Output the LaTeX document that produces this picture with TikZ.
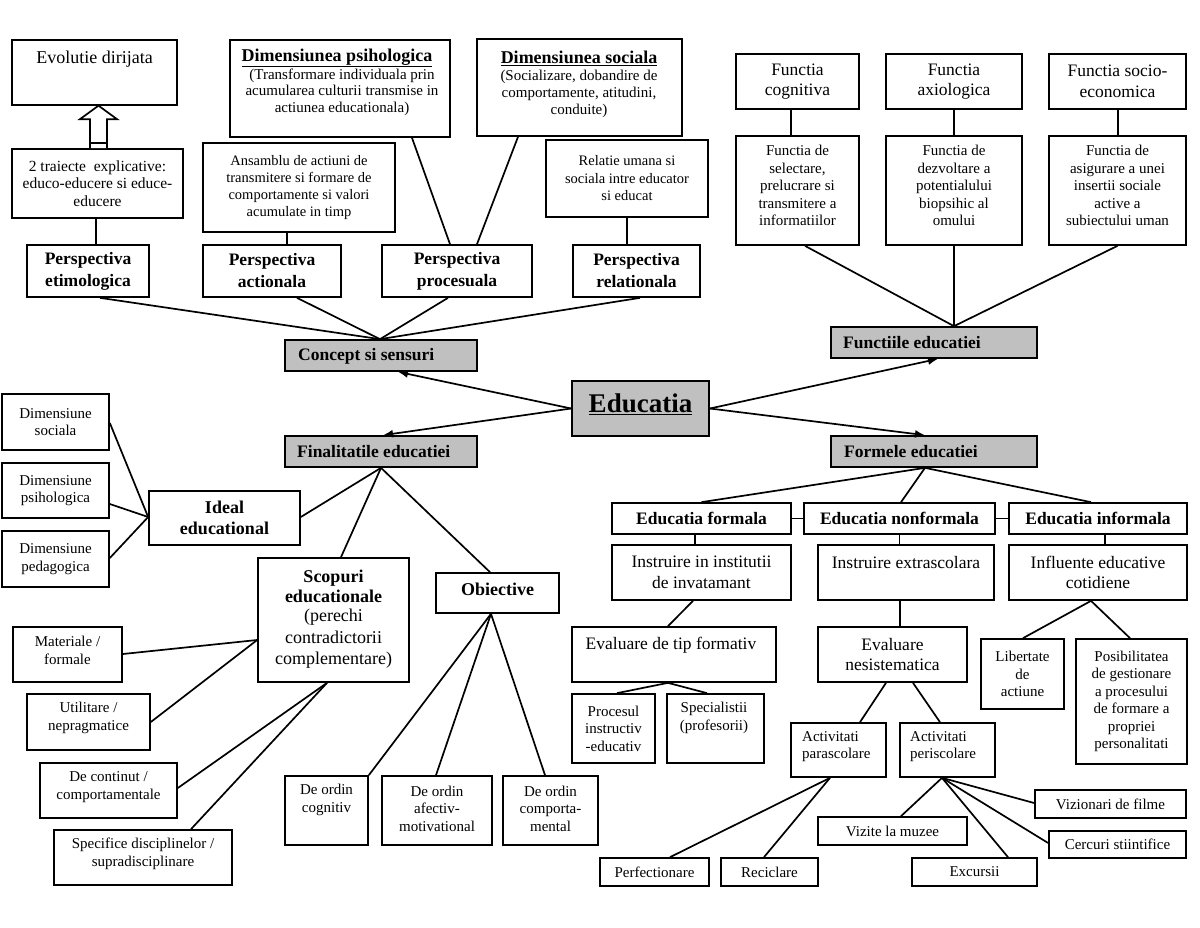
\documentclass[tikz,border=0pt]{standalone}
\usepackage{fontspec}
\setmainfont{Liberation Serif}
\usetikzlibrary{calc,arrows.meta}
\definecolor{boxgray}{RGB}{192,192,192}
\newcommand\mybox[5]{\node[#1,minimum width=#4pt,minimum height=#5pt] (#2) at (#3)}
\tikzset{
  box/.style={draw=black, line width=1.7pt, fill=white, inner sep=0pt, align=center},
  graybox/.style={box, fill=boxgray},
  ts/.style={font=\fontsize{15}{17.5}\selectfont, align=center, inner sep=0pt},
  tm/.style={font=\fontsize{17.5}{20.5}\selectfont, align=center, inner sep=0pt},
  tb/.style={font=\bfseries\fontsize{17.5}{22}\selectfont, align=center, inner sep=0pt},
  ln/.style={line width=1.7pt},
  ar/.style={line width=1.7pt, -{Latex[length=10pt,width=8pt]}},
}
\begin{document}
\begin{tikzpicture}[x=1pt,y=-1pt]
\fill[white] (0,0) rectangle (1200,927);
\useasboundingbox (0,0) rectangle (1200,927);

% ---------- Concept si sensuri branch ----------
\mybox{box}{evol}{94.5,72.5}{165}{65} {};
\node[font=\fontsize{18}{21}\selectfont, inner sep=0pt] (evol-t) at (94.5,59) {Evolutie dirijata};
\mybox{box,font=\fontsize{15.5}{17.5}\selectfont}{trai}{97.5,183.5}{171}{69} {2 traiecte\ \ explicative:\\educo-educere si educe-\\educere};
\mybox{box,tb}{etim}{88,271}{122}{52} {Perspectiva\\etimologica};
\mybox{box}{dpsi}{340,88.5}{220}{97} {};
\node[tb, font=\bfseries\fontsize{18}{21}\selectfont] (dpsi-t) at (337,58) {\underline{Dimensiunea psihologica}};
\node[font=\fontsize{15}{16.5}\selectfont, align=center, inner sep=0pt] (dpsi-b) at (342,92) {(Transformare individuala prin\\acumularea culturii transmise in\\actiunea educationala)};
\mybox{box}{dsoc}{579.5,87.5}{205}{97} {};
\node[tb, font=\bfseries\fontsize{18}{21}\selectfont] (dsoc-t) at (579,58) {\underline{Dimensiunea sociala}};
\node[font=\fontsize{15}{17}\selectfont, align=center, inner sep=0pt] (dsoc-b) at (579,94) {(Socializare, dobandire de\\comportamente, atitudini,\\conduite)};
\mybox{box,font=\fontsize{14.5}{17}\selectfont}{ansa}{299,187.5}{192}{89} {Ansamblu de actiuni de\\transmitere si formare de\\comportamente si valori\\acumulate in timp};
\mybox{box,tb}{actn}{272,271}{138}{52} {Perspectiva\\actionala};
\mybox{box,tb}{proc}{457,271}{150}{52} {Perspectiva\\procesuala};
\mybox{box,font=\fontsize{14.5}{17.5}\selectfont}{rela}{627,178.5}{162}{77} {Relatie umana si\\sociala intre educator\\si educat};
\mybox{box,tb}{relp}{636.5,271}{127}{52} {Perspectiva\\relationala};

% ---------- central ----------
\mybox{graybox}{conc}{381,355.5}{192}{31} {};
\node[tb, anchor=west] (conc-t) at (298,356) {Concept si sensuri};
\mybox{graybox}{educ}{640.5,408.5}{137}{55} {};
\node[font=\bfseries\fontsize{27}{30}\selectfont, inner sep=0pt] (educ-t) at (640.5,404) {\underline{Educatia}};
\mybox{graybox}{fina}{381,451.5}{192}{31} {};
\node[tb, anchor=west] (fina-t) at (297,452) {Finalitatile educatiei};
\mybox{graybox}{func}{934,342.5}{206}{31} {};
\node[tb, anchor=west] (func-t) at (843,343) {Functiile educatiei};
\mybox{graybox}{form}{934,451.5}{206}{31} {};
\node[tb, anchor=west] (form-t) at (844,452) {Formele educatiei};

% ---------- Functii ----------
\mybox{box,tm}{fcog}{797.5,81.5}{123}{55} {Functia\\cognitiva};
\mybox{box,tm}{faxi}{954,81.5}{136}{55} {Functia\\axiologica};
\mybox{box,tm}{fsoc}{1117.5,81.5}{137}{55} {Functia socio-\\economica};
\mybox{box}{fsel}{797.5,190.5}{123}{109} {};
\node[ts] (fsel-t) at ($(fsel.center)+(0,-5)$) {Functia de\\selectare,\\prelucrare si\\transmitere a\\informatiilor};
\mybox{box}{fdez}{954,190.5}{136}{109} {};
\node[ts] (fdez-t) at ($(fdez.center)+(0,-5)$) {Functia de\\dezvoltare a\\potentialului\\biopsihic al\\omului};
\mybox{box}{fasi}{1117.5,190.5}{137}{109} {};
\node[ts] (fasi-t) at ($(fasi.center)+(0,-5)$) {Functia de\\asigurare a unei\\insertii sociale\\active a\\subiectului uman};

% ---------- Finalitati ----------
\mybox{box,ts}{dsocl}{55.5,422}{107}{56} {Dimensiune\\sociala};
\mybox{box,ts}{dpsil}{55.5,490.5}{107}{55} {Dimensiune\\psihologica};
\mybox{box,ts}{dpedl}{55.5,559}{107}{56} {Dimensiune\\pedagogica};
\mybox{box,tb,font=\bfseries\fontsize{18}{21}\selectfont}{idea}{224.5,518}{151}{54} {Ideal\\educational};
\mybox{box}{scop}{333.5,620}{151}{124} {};
\node[tb, font=\bfseries\fontsize{18}{20}\selectfont] (scop-t) at (333.5,586) {Scopuri\\educationale};
\node[font=\fontsize{18}{21.5}\selectfont, align=center, inner sep=0pt] (scop-b) at (333.5,639) {(perechi\\contradictorii\\complementare)};
\mybox{box}{obie}{497.5,593}{123}{40} {};
\node[tb, font=\bfseries\fontsize{18}{21}\selectfont] (obie-t) at (497.5,589) {Obiective};
\mybox{box}{mate}{67.5,654.5}{109}{55} {};
\node[ts] (mate-t) at ($(mate.center)+(0,-4)$) {Materiale /\\formale};
\mybox{box}{util}{88.5,722}{123}{56} {};
\node[ts] (util-t) at ($(util.center)+(0,-4)$) {Utilitare /\\nepragmatice};
\mybox{box}{cont}{108.5,790.5}{137}{55} {};
\node[ts] (cont-t) at ($(cont.center)+(0,-3.5)$) {De continut /\\comportamentale};
\mybox{box}{spec}{143,857.5}{178}{55} {};
\node[ts] (spec-t) at ($(spec.center)+(0,-3.5)$) {Specifice disciplinelor /\\supradisciplinare};
\mybox{box}{ocog}{326.5,810.5}{83}{69} {};
\node[ts] (ocog-t) at (326.5,800) {De ordin\\cognitiv};
\mybox{box}{oafe}{437,810.5}{110}{69} {};
\node[ts] (oafe-t) at (437,808.5) {De ordin\\afectiv-\\motivational};
\mybox{box}{ocom}{550.5,810.5}{95}{69} {};
\node[ts] (ocom-t) at (550.5,808.5) {De ordin\\comporta-\\mental};

% ---------- Formele ----------
\mybox{box,tb}{efor}{701.5,518.5}{179}{31} {Educatia formala};
\mybox{box,tb}{enon}{899.5,518.5}{191}{31} {Educatia nonformala};
\mybox{box,tb}{einf}{1098,518.5}{178}{31} {Educatia informala};
\mybox{box,tm}{iins}{701.5,572.5}{179}{55} {Instruire in institutii\\de invatamant};
\mybox{box}{iext}{906,572.5}{176}{55} {};
\node[tm] (iext-t) at (906,563) {Instruire extrascolara};
\mybox{box,tm}{iinf}{1098,572.5}{178}{55} {Influente educative\\cotidiene};
\mybox{box}{evfo}{674,654.5}{204}{55} {};
\node[tm] (evfo-t) at (671,645) {Evaluare de tip formativ};
\mybox{box,tm}{evne}{892.5,654.5}{149}{55} {Evaluare\\nesistematica};
\mybox{box,ts}{proi}{613.5,728.5}{83}{69} {Procesul\\instructiv\\-educativ};
\mybox{box}{spcl}{715.5,728.5}{97}{69} {};
\node[ts] (spcl-t) at (714,718) {Specialistii\\(profesorii)};
\mybox{box,ts}{libe}{1022.5,674}{83}{70} {Libertate\\de\\actiune};
\mybox{box,ts}{posi}{1131.5,701.5}{111}{125} {Posibilitatea\\de gestionare\\a procesului\\de formare a\\propriei\\personalitati};
\mybox{box}{apar}{838.5,750}{95}{54} {};
\node[ts, align=left, anchor=west] (apar-t) at (802,746.5) {Activitati\\parascolare};
\mybox{box}{aper}{947.5,750}{95}{54} {};
\node[ts, align=left, anchor=west] (aper-t) at (910,746.5) {Activitati\\periscolare};
\mybox{box,ts}{perf}{654.5,872}{109}{28} {Perfectionare};
\mybox{box,ts}{reci}{769.5,872}{97}{28} {Reciclare};
\mybox{box,ts}{vizi}{892.5,831}{149}{28} {Vizite la muzee};
\mybox{box,ts}{excu}{974.5,872}{125}{28} {Excursii};
\mybox{box,ts}{vizf}{1110.5,804}{151}{28} {Vizionari de filme};
\mybox{box,ts}{cerc}{1117.5,844.5}{137}{27} {Cercuri stiintifice};

% ---------- connectors ----------
% hollow arrow
\coordinate (ha) at ($(trai.north)+(1,0)$);
\draw[ln, fill=white, line join=miter] ($(ha)+(-8.5,0)$) -- ++(0,-29) -- ++(-10,0) -- ++(18.5,-13.5) -- ++(18.5,13.5) -- ++(-10,0) -- ++(0,29);
\draw[ln] ($(ha)+(-8.5,-5)$) -- ($(ha)+(8.5,-5)$);

\draw[ln] ($(trai.south)+(-1.5,0)$) -- ($(etim.north)+(8,0)$);
\draw[ln] ($(ansa.south)+(-12,0)$) -- ($(actn.north)+(15,0)$);
\draw[ln] ($(dpsi.south)+(72,0)$) -- ($(proc.north)+(-7,0)$);
\draw[ln] ($(dsoc.south)+(-61.5,0)$) -- ($(proc.north)+(20,0)$);
\draw[ln] (rela.south) -- ($(relp.north)+(-9.5,0)$);
\draw[ln] ($(etim.south)+(12,0)$) -- ($(conc.north)+(-1,0)$);
\draw[ln] ($(actn.south)+(25,0)$) -- ($(conc.north)+(-1,0)$);
\draw[ln] ($(proc.south)+(-9,0)$) -- ($(conc.north)+(-1,0)$);
\draw[ln] ($(relp.south)+(3.5,0)$) -- ($(conc.north)+(-1,0)$);

\draw[ln] ($(fcog.south)+(-6.5,0)$) -- ($(fsel.north)+(-6.5,0)$);
\draw[ln] (faxi.south) -- (fdez.north);
\draw[ln] ($(fsoc.south)+(0.5,0)$) -- ($(fasi.north)+(0.5,0)$);
\draw[ln] ($(fsel.south)+(7.5,0)$) -- ($(func.north)+(20,0)$);
\draw[ln] (fdez.south) -- ($(func.north)+(20,0)$);
\draw[ln] (fasi.south) -- ($(func.north)+(20,0)$);

\draw[ar] (educ.west) -- ($(conc.south)+(17,0)$);
\draw[ar] (educ.west) -- ($(fina.north)+(2,0)$);
\draw[ar] (educ.east) -- ($(func.south)+(4,0)$);
\draw[ar] (educ.east) -- ($(form.north)+(-9,0)$);

\draw[ln] ($(dsocl.east)+(0,1)$) -- ($(idea.west)+(0,-1)$);
\draw[ln] ($(dpsil.east)+(0,13.5)$) -- ($(idea.west)+(0,-1)$);
\draw[ln] ($(dpedl.east)+(0,-1)$) -- ($(idea.west)+(0,-1)$);
\draw[ln] ($(idea.east)+(0,-1)$) -- (fina.south);
\draw[ln] ($(scop.north)+(7.5,0)$) -- (fina.south);
\draw[ln] ($(obie.north)+(-7.5,0)$) -- (fina.south);
\draw[ln] ($(mate.east)+(0,-0.5)$) -- ($(scop.west)+(0,20)$);
\draw[ln] (util.east) -- ($(scop.west)+(0,20)$);
\draw[ln] ($(cont.east)+(0,-2.5)$) -- ($(scop.south)+(-6.5,0)$);
\draw[ln] ($(spec.north)+(48,0)$) -- ($(scop.south)+(-6.5,0)$);
\draw[ln] ($(obie.south)+(-6.5,0)$) -- (ocog.north east);
\draw[ln] ($(obie.south)+(-6.5,0)$) -- ($(oafe.north)+(-1,0)$);
\draw[ln] ($(obie.south)+(-6.5,0)$) -- ($(ocom.north)+(-5.5,0)$);

\draw[ln] ($(form.south)+(-9,0)$) -- (efor.north);
\draw[ln] ($(form.south)+(-9,0)$) -- ($(enon.north)+(1.5,0)$);
\draw[ln] ($(form.south)+(-9,0)$) -- ($(einf.north)+(-7,0)$);
\draw[ln] (efor.east) -- (enon.west);
\draw[ln] (enon.east) -- (einf.west);
\draw[ln] ($(efor.south)+(-6.5,0)$) -- ($(iins.north)+(-6.5,0)$);
\draw[ln] (enon.south) -- (enon.south |- iext.north);
\draw[ln] ($(einf.south)+(7,0)$) -- ($(iinf.north)+(7,0)$);
\draw[ln] ($(iins.south)+(-8.5,0)$) -- ($(evfo.north)+(-6,0)$);
\draw[ln] ($(iext.south)+(-6,0)$) -- ($(evne.north)+(7.5,0)$);
\draw[ln] ($(iinf.south)+(-7,0)$) -- ($(libe.north)+(0.5,0)$);
\draw[ln] ($(iinf.south)+(-7,0)$) -- ($(posi.north)+(-1.5,0)$);
\draw[ln] ($(evfo.south)+(-6,0)$) -- ($(proi.north)+(3.5,0)$);
\draw[ln] ($(evfo.south)+(-6,0)$) -- ($(spcl.north)+(-8.5,0)$);
\draw[ln] ($(evne.south)+(-6.5,0)$) -- ($(apar.north)+(21.5,0)$);
\draw[ln] ($(evne.south)+(20.5,0)$) -- ($(aper.north)+(-7.5,0)$);
\draw[ln] ($(apar.south)+(-8.5,0)$) -- ($(perf.north)+(15.5,0)$);
\draw[ln] ($(apar.south)+(-8.5,0)$) -- ($(reci.north)+(-5.5,0)$);
\draw[ln] ($(aper.south)+(-5.5,0)$) -- ($(vizi.north)+(8.5,0)$);
\draw[ln] ($(aper.south)+(-5.5,0)$) -- ($(excu.north)+(33.5,0)$);
\draw[ln] ($(aper.south)+(-5.5,0)$) -- ($(vizf.west)+(0,-1)$);
\draw[ln] ($(aper.south)+(-5.5,0)$) -- ($(cerc.west)+(0,-1.5)$);
\end{tikzpicture}
\end{document}
